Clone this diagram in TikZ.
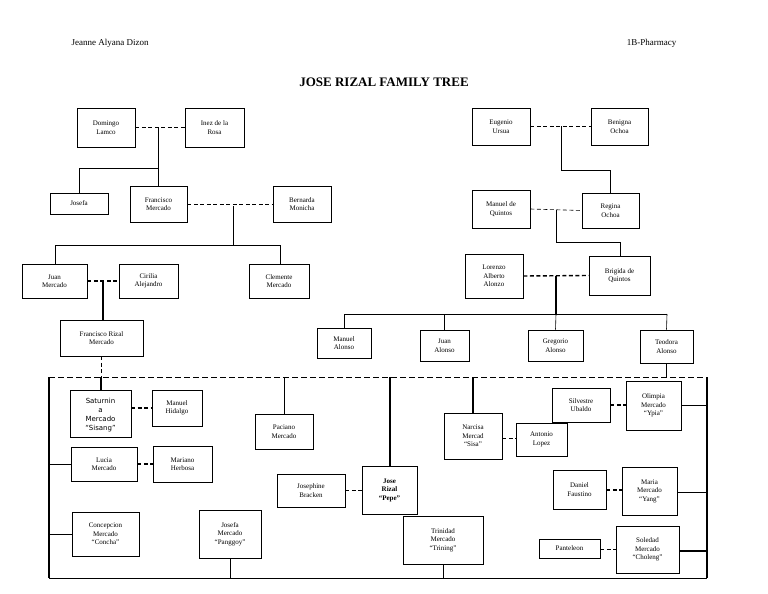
\documentclass[tikz,border=0pt]{standalone}
\usepackage{fontspec}
\setmainfont{Liberation Serif}
\setsansfont{DejaVu Sans}
\begin{document}
\begin{tikzpicture}[x=1pt,y=-1pt,
  box/.style={draw,line width=0.8pt,inner sep=1pt,align=center,font=\fontsize{7}{8.5}\selectfont},
  sp/.style={line width=1.4pt,dash pattern=on 4pt off 2.5pt},
  spt/.style={line width=0.6pt,dash pattern=on 4pt off 2.5pt},
  ln/.style={line width=0.6pt},
  tk/.style={line width=1.2pt}]
\useasboundingbox (0,0) rectangle (768,594);
\newcommand\bx[6]{\node[box,minimum width={#4-#2},minimum height={#5-#3}] (#1) at ({(#2+#4)/2},{(#3+#5)/2}) {#6};}
\node[anchor=west,font=\fontsize{9}{10}\selectfont] (au) at (68,43) {Jeanne Alyana Dizon};
\node[anchor=east,font=\fontsize{9}{10}\selectfont] (cl) at (680,43) {1B-Pharmacy};
\node[font=\bfseries\fontsize{13}{14}\selectfont] (ti) at (384,82) {JOSE RIZAL FAMILY TREE};
\bx{dom}{77}{108}{135}{147}{Domingo\\Lamco}
\bx{inez}{185}{108}{244}{147}{Inez de la\\Rosa}
\bx{jos}{50}{193}{108}{214}{Josefa}
\bx{fra}{130}{186}{187}{222}{Francisco\\Mercado}
\bx{ber}{273}{186}{331}{222}{Bernarda\\Monicha}
\bx{jua}{22}{264}{87}{298}{Juan\\Mercado}
\bx{cir}{119}{264}{178}{298}{Cirilia\\Alejandro}
\bx{cle}{249}{264}{309}{298}{Clemente\\Mercado}
\bx{frr}{60}{320}{143}{356}{Francisco Rizal\\Mercado}
\bx{eug}{472}{108}{530}{145}{Eugenio\\Ursua}
\bx{ben}{591}{108}{648}{145}{Benigna\\Ochoa}
\bx{mdq}{472}{190}{530}{228}{Manuel de\\Quintos}
\bx{reg}{582}{193}{639}{228}{Regina\\Ochoa}
\bx{lor}{465}{254}{523}{298}{Lorenzo\\Alberto\\Alonzo}
\bx{bri}{589}{256}{650}{295}{Brigida de\\Quintos}
\bx{mal}{317}{328}{371}{358}{Manuel\\Alonso}
\bx{jal}{420}{330}{469}{361}{Juan\\Alonso}
\bx{gre}{528}{330}{583}{361}{Gregorio\\Alonso}
\bx{teo}{640}{330}{693}{363}{Teodora\\Alonso}
\begin{scope}
\clip (70,390) rectangle (131,437);
\node[box,font=\sffamily\fontsize{7}{9}\selectfont,anchor=north,minimum width=61,minimum height=47,text depth=0pt] (sat) at (100.5,390) {Saturnin\\a\\Mercado\\``Sisang''};
\end{scope}
\draw[line width=0.8pt] (70,390) rectangle (131,437);
\coordinate (satS) at (101,390);
\bx{mhi}{152}{390}{202}{426}{Manuel\\Hidalgo}
\bx{pac}{255}{414}{313}{449}{Paciano\\Mercado}
\bx{luc}{71}{447}{137}{481}{Lucia\\Mercado}
\bx{mar}{153}{446}{212}{482}{Mariano\\Herbosa}
\bx{con}{72}{512}{139}{556}{Concepcion\\Mercado\\``Concha''}
\bx{pan}{199}{510}{261}{558}{Josefa\\Mercado\\``Panggoy''}
\bx{jph}{277}{474}{345}{507}{Josephine\\Bracken}
\bx{jr}{362}{466}{417}{514}{\bfseries Jose\\\bfseries Rizal\\\bfseries ``Pepe''}
\bx{tri}{403}{516}{483}{564}{Trinidad\\Mercado\\``Trining''}
\bx{nar}{444}{413}{502}{459}{Narcisa\\Mercad\\``Sisa''}
\bx{ant}{516}{423}{567}{456}{Antonio\\Lopez}
\bx{sil}{552}{388}{610}{422}{Silvestre\\Ubaldo}
\bx{oli}{626}{381}{681}{430}{Olimpia\\Mercado\\``Ypia''}
\bx{dan}{553}{470}{606}{509}{Daniel\\Faustino}
\bx{mry}{622}{467}{677}{515}{Maria\\Mercado\\``Yang''}
\bx{ptl}{539}{539}{600}{558}{Panteleon}
\bx{sol}{616}{526}{679}{573}{Soledad\\Mercado\\``Choleng''}
% Lamco
\draw[sp] (dom.east) -- (inez.west);
\coordinate (j1) at (158,128);
\draw[ln] (j1) -- (158,168) coordinate (j1b);
\draw[ln] (79,168) -- (j1b);
\draw[ln] (79,168) -- (jos.north -| 79,0);
\draw[ln] (j1b) -- (fra.north -| j1b);
\draw[spt] (fra.east) -- (ber.west);
\draw[ln] (233,206) -- (233,245);
\draw[ln] (55,245) -- (280,245);
\draw[ln] (55,245) -- (jua.north -| 55,0);
\draw[ln] (280,245) -- (cle.north -| 280,0);
\draw[sp] (jua.east) -- (cir.west);
\draw[tk] (103,282) -- (frr.north -| 103,0);
\draw[spt] (frr.south -| 101,0) -- (101,377);
% Ursua
\draw[sp] (eug.east) -- (ben.west);
\draw[ln] (561,126) -- (561,170) -- (610,170) -- (reg.north -| 610,0);
\draw[spt] (mdq.east) -- (reg.west);
\draw[ln] (556,210) -- (556,242) -- (620,242) -- (bri.north -| 620,0);
\draw[sp] (lor.east) -- (bri.west);
\draw[tk] (556,276) -- (556,314);
\draw[ln] (344,314) -- (667,314);
\draw[ln] (344,314) -- (mal.north -| 344,0);
\draw[ln] (444,314) -- (jal.north -| 444,0);
\draw[ln] (556,314) -- (gre.north);
\draw[ln] (667,314) -- (teo.north);
\draw[ln] (teo.south) -- (666.5,377);
% frame
\draw[line width=1pt,dash pattern=on 6pt off 3pt] (49,377) -- (707,377);
\draw[tk] (49,377) -- (49,578);
\draw[tk] (707,377) -- (707,578);
\draw[ln] (49,578) -- (707,578);
\draw[tk] (101,377) -- (satS);
\draw[ln] (284,377) -- (pac.north -| 284,0);
\draw[tk] (390,377) -- (jr.north -| 390,0);
\draw[tk] (473,377) -- (nar.north);
\draw[ln] (49,464) -- (luc.west);
\draw[ln] (49,534) -- (con.west);
\draw[ln] (pan.south) -- (230,578);
\draw[ln] (tri.south) -- (443,578);
\draw[tk] (oli.east) -- (707,405.5);
\draw[ln] (mry.east |- 0,492) -- (707,492);
\draw[tk] (sol.east |- 0,551) -- (707,551);
% spouses
\draw[sp] (131,408) -- (mhi.west |- 0,408);
\draw[sp] (luc.east) -- (mar.west |- luc.east);
\draw[sp] (jph.east) -- (jr.west |- jph.east);
\draw[spt] (nar.east |- 0,438) -- (ant.west |- 0,438);
\draw[sp] (sil.east |- 0,405) -- (oli.west |- 0,405);
\draw[sp] (dan.east |- 0,490) -- (mry.west |- 0,490);
\draw[spt] (ptl.east |- 0,549) -- (sol.west |- 0,549);
\end{tikzpicture}
\end{document}
